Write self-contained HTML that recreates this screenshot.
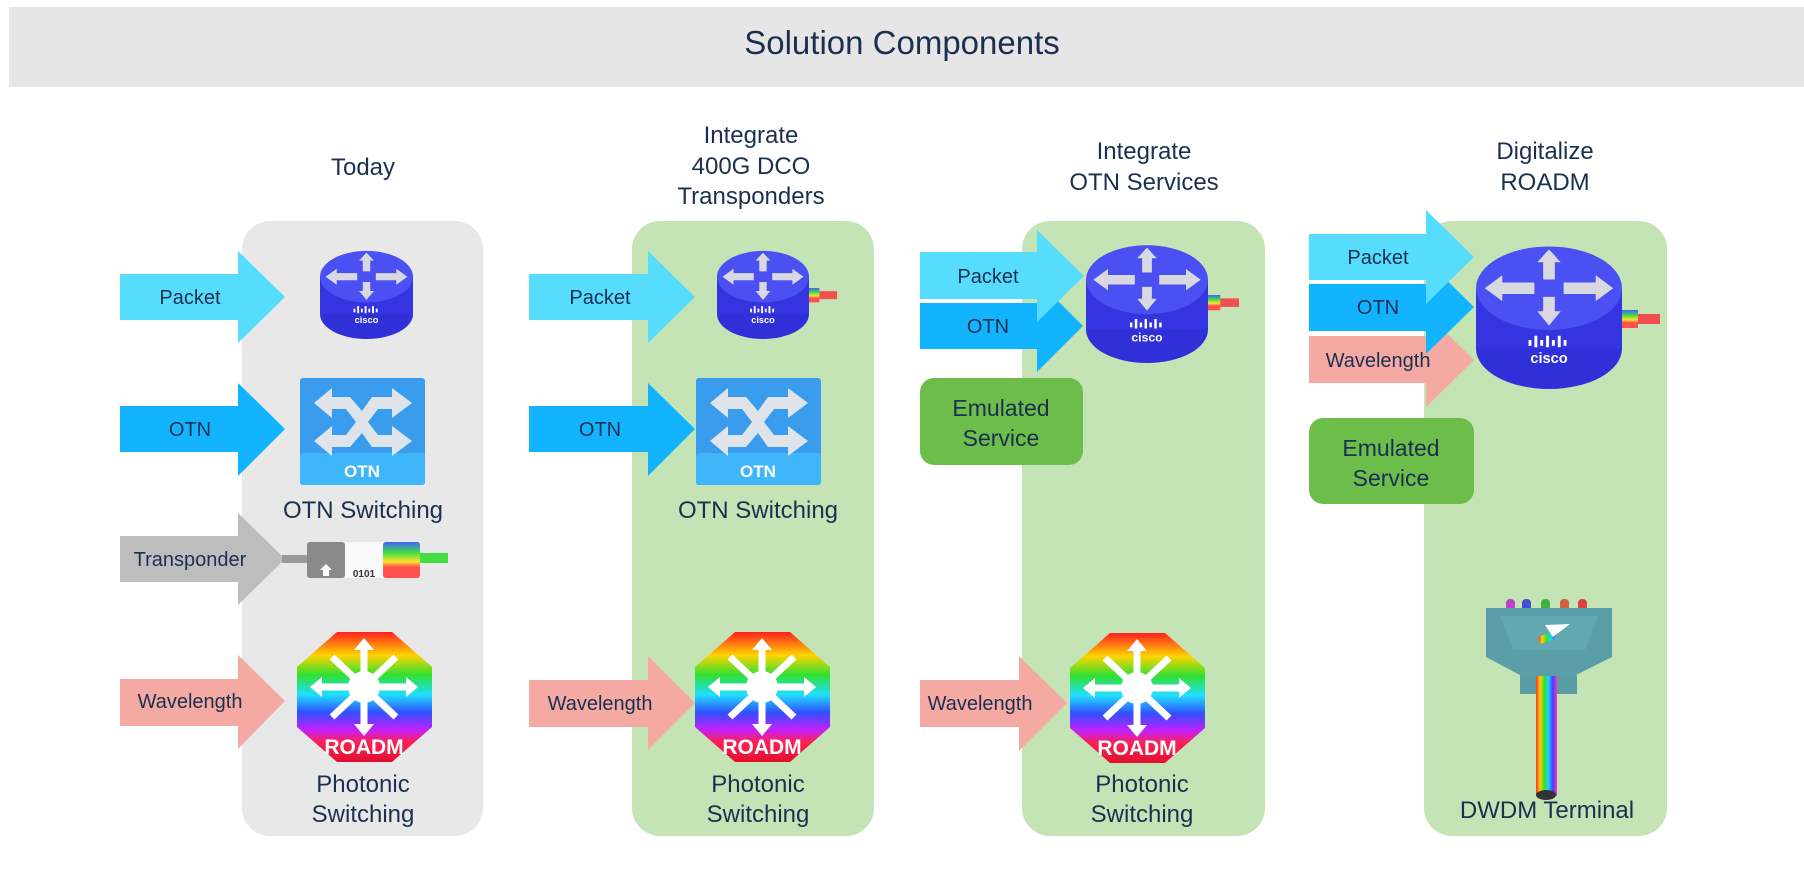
<!DOCTYPE html>
<html><head><meta charset="utf-8"><style>
html,body{margin:0;padding:0;background:#fff;}
svg{display:block;font-family:"Liberation Sans",sans-serif;}
</style></head><body>
<svg width="1804" height="876" viewBox="0 0 1804 876" xmlns="http://www.w3.org/2000/svg">
<defs>
<linearGradient id="rb" x1="0" y1="0" x2="0" y2="1">
<stop offset="0" stop-color="#ff2020"/><stop offset="0.18" stop-color="#ffd400"/><stop offset="0.33" stop-color="#30e030"/><stop offset="0.48" stop-color="#20e0ff"/><stop offset="0.62" stop-color="#3050ff"/><stop offset="0.75" stop-color="#c020ff"/><stop offset="0.85" stop-color="#ff2050"/><stop offset="1" stop-color="#e01030"/>
</linearGradient>
<linearGradient id="rbh" x1="0" y1="0" x2="1" y2="0">
<stop offset="0" stop-color="#ff3030"/><stop offset="0.2" stop-color="#ffd000"/><stop offset="0.4" stop-color="#30e030"/><stop offset="0.6" stop-color="#20d0ff"/><stop offset="0.8" stop-color="#4040ff"/><stop offset="1" stop-color="#ff30c0"/>
</linearGradient>
<linearGradient id="tr" x1="0" y1="0" x2="0" y2="1">
<stop offset="0" stop-color="#4060ff"/><stop offset="0.3" stop-color="#40e040"/><stop offset="0.55" stop-color="#ffe030"/><stop offset="0.7" stop-color="#ff5050"/><stop offset="1" stop-color="#ff5050"/>
</linearGradient>
<g id="router">
<ellipse cx="50" cy="72" rx="50" ry="28" fill="#3030d8"/>
<rect x="0" y="30" width="100" height="42" fill="#3434e0"/>
<ellipse cx="50" cy="30" rx="50" ry="29" fill="#4a50f2"/>
<g fill="#d8d8e0">
<polygon points="50,3 58,12 54,12 54,24 46,24 46,12 42,12"/>
<polygon points="50,56 58,46 54,46 54,36 46,36 46,46 42,46"/>
<polygon points="6,30 18,21 18,26 40,26 40,34 18,34 18,39"/>
<polygon points="94,30 82,21 82,26 60,26 60,34 82,34 82,39"/>
</g>
<g fill="#fff"><rect x="36" y="66" width="2" height="4"/><rect x="40" y="63" width="2" height="8"/><rect x="44" y="66" width="2" height="4"/><rect x="48" y="63" width="2" height="8"/><rect x="52" y="66" width="2" height="4"/><rect x="56" y="63" width="2" height="8"/><rect x="60" y="66" width="2" height="4"/></g>
<text x="50" y="82" font-size="10" font-weight="bold" fill="#fff" text-anchor="middle">cisco</text>
</g>
<g id="otn">
<rect x="0" y="0" width="125" height="107" rx="3" fill="#3a9cec"/>
<rect x="0" y="75" width="125" height="32" rx="3" fill="#3fb6fa"/>
<g fill="#dfe3ea">
<polygon points="14,25 32,10 32,19 50,19 62,33 72,19 92,19 92,10 112,25 92,40 92,31 78,31 68,44 78,57 92,57 92,48 112,63 92,78 92,69 72,69 62,55 50,69 32,69 32,78 14,63 32,48 32,57 46,57 56,44 46,31 32,31 32,40"/>
</g>
<text x="62" y="99" font-size="17" font-weight="bold" fill="#fff" text-anchor="middle">OTN</text>
</g>
<g id="roadm">
<polygon points="40,0 95,0 135,35 135,95 95,130 40,130 0,95 0,35" fill="url(#rb)"/>
<g fill="#fff" stroke="#fff">
<circle cx="67" cy="55" r="16" stroke="none"/>
<line x1="67" y1="55" x2="67" y2="15" stroke-width="7"/><line x1="67" y1="55" x2="67" y2="95" stroke-width="7"/>
<line x1="67" y1="55" x2="22" y2="55" stroke-width="7"/><line x1="67" y1="55" x2="112" y2="55" stroke-width="7"/>
<line x1="67" y1="55" x2="35" y2="25" stroke-width="7"/><line x1="67" y1="55" x2="99" y2="25" stroke-width="7"/>
<line x1="67" y1="55" x2="35" y2="85" stroke-width="7"/><line x1="67" y1="55" x2="99" y2="85" stroke-width="7"/>
<polygon points="67,6 77,18 57,18" stroke="none"/><polygon points="67,104 77,92 57,92" stroke="none"/>
<polygon points="13,55 25,45 25,65" stroke="none"/><polygon points="121,55 109,45 109,65" stroke="none"/>
</g>
<text x="67" y="122" font-size="21" font-weight="bold" fill="#fff" text-anchor="middle">ROADM</text>
</g>
<g id="conn">
<rect x="0" y="0" width="18" height="18" fill="url(#tr)"/>
<rect x="18" y="4" width="22" height="10" fill="#f05050"/>
</g>
</defs>

<rect x="9" y="7" width="1795" height="80" fill="#e6e6e6"/>
<text x="902" y="54" font-size="33" fill="#1b3050" text-anchor="middle">Solution Components</text>

<rect x="242" y="221" width="241" height="615" rx="28" fill="#e8e8e8"/>
<rect x="632" y="221" width="242" height="615" rx="28" fill="#c5e4b5"/>
<rect x="1022" y="221" width="243" height="615" rx="28" fill="#c5e4b5"/>
<rect x="1424" y="221" width="243" height="615" rx="28" fill="#c5e4b5"/>

<g font-size="24" fill="#1b3050" text-anchor="middle">
<text x="363" y="175">Today</text>
<text x="751" y="143">Integrate</text><text x="751" y="174">400G DCO</text><text x="751" y="204">Transponders</text>
<text x="1144" y="159">Integrate</text><text x="1144" y="190">OTN Services</text>
<text x="1545" y="159">Digitalize</text><text x="1545" y="190">ROADM</text>
</g>

<polygon points="120,274 238,274 238,251 285,297 238,343 238,320 120,320" fill="#56dcfd"/>
<polygon points="120,406 238,406 238,383 285,429 238,476 238,452 120,452" fill="#13b4ff"/>
<polygon points="120,536 238,536 238,513 285,559 238,605 238,582 120,582" fill="#bdbdbd"/>
<polygon points="120,679 238,679 238,655 285,701 238,749 238,726 120,726" fill="#f4a9a3"/>
<polygon points="529,274 648,274 648,251 695,297 648,343 648,320 529,320" fill="#56dcfd"/>
<polygon points="529,406 648,406 648,383 695,429 648,476 648,452 529,452" fill="#13b4ff"/>
<polygon points="529,680 648,680 648,656 695,703 648,750 648,727 529,727" fill="#f4a9a3"/>
<polygon points="920,303 1037,303 1037,280 1083,326 1037,372 1037,349 920,349" fill="#13b4ff"/>
<polygon points="920,252 1037,252 1037,230 1084,276 1037,322 1037,299 920,299" fill="#56dcfd"/>
<polygon points="920,680 1019,680 1019,656 1067,703 1019,751 1019,727 920,727" fill="#f4a9a3"/>
<polygon points="1309,336 1426,336 1426,313 1474,360 1426,407 1426,383 1309,383" fill="#f4a9a3"/>
<polygon points="1309,284 1426,284 1426,260 1474,307 1426,354 1426,331 1309,331" fill="#13b4ff"/>
<polygon points="1309,234 1426,234 1426,210 1474,257 1426,304 1426,280 1309,280" fill="#56dcfd"/>

<g font-size="20" fill="#1b3050" text-anchor="middle">
<text x="190" y="304">Packet</text><text x="190" y="436">OTN</text><text x="190" y="566">Transponder</text><text x="190" y="708">Wavelength</text>
<text x="600" y="304">Packet</text><text x="600" y="436">OTN</text><text x="600" y="710">Wavelength</text>
<text x="988" y="283">Packet</text><text x="988" y="333">OTN</text><text x="980" y="710">Wavelength</text>
<text x="1378" y="264">Packet</text><text x="1378" y="314">OTN</text><text x="1378" y="367">Wavelength</text>
</g>

<use href="#router" transform="translate(320,250) scale(0.93,0.89)"/>
<use href="#conn" transform="translate(805,288) scale(0.8)"/>
<use href="#router" transform="translate(717,250) scale(0.92,0.89)"/>
<use href="#conn" transform="translate(1205,295) scale(0.85)"/>
<use href="#router" transform="translate(1086,244) scale(1.22,1.19)"/>
<use href="#conn" transform="translate(1620,310) scale(1)"/>
<use href="#router" transform="translate(1476,245) scale(1.46,1.44)"/>

<use href="#otn" transform="translate(300,378)"/>
<use href="#otn" transform="translate(696,378)"/>
<g font-size="24" fill="#1b3050" text-anchor="middle">
<text x="363" y="518">OTN Switching</text>
<text x="758" y="518">OTN Switching</text>
</g>

<rect x="282" y="555" width="30" height="8" fill="#999"/>
<rect x="307" y="542" width="38" height="36" rx="3" fill="#8a8a8a"/>
<polygon points="326,564 332,570 329,570 329,576 323,576 323,570 320,570" fill="#fff"/>
<rect x="345" y="542" width="38" height="36" fill="#fafafa"/>
<text x="364" y="577" font-size="10" font-weight="bold" fill="#333" text-anchor="middle">0101</text>
<rect x="383" y="542" width="37" height="36" rx="3" fill="url(#tr)"/>
<rect x="420" y="553" width="28" height="10" fill="#44dd44"/>

<use href="#roadm" transform="translate(297,632)"/>
<use href="#roadm" transform="translate(695,632)"/>
<use href="#roadm" transform="translate(1070,633)"/>
<g font-size="24" fill="#1b3050" text-anchor="middle">
<text x="363" y="792">Photonic</text><text x="363" y="822">Switching</text>
<text x="758" y="792">Photonic</text><text x="758" y="822">Switching</text>
<text x="1142" y="792">Photonic</text><text x="1142" y="822">Switching</text>
</g>

<rect x="920" y="378" width="163" height="87" rx="14" fill="#6dbd4a"/>
<rect x="1309" y="418" width="165" height="86" rx="14" fill="#6dbd4a"/>
<g font-size="23" fill="#1b3050" text-anchor="middle">
<text x="1001" y="416">Emulated</text><text x="1001" y="446">Service</text>
<text x="1391" y="456">Emulated</text><text x="1391" y="486">Service</text>
</g>

<g>
<rect x="1506" y="599" width="9" height="12" rx="4" fill="#c040d0"/>
<rect x="1522" y="599" width="9" height="12" rx="4" fill="#4050d0"/>
<rect x="1541" y="599" width="9" height="12" rx="4" fill="#40b040"/>
<rect x="1560" y="599" width="9" height="12" rx="4" fill="#d06040"/>
<rect x="1578" y="599" width="9" height="12" rx="4" fill="#e04040"/>
<polygon points="1486,608 1612,608 1612,657 1576,675 1520,675 1486,657" fill="#5a9fa7"/>
<polygon points="1500,616 1598,616 1585,650 1513,650" fill="#62a8b0"/>
<rect x="1520" y="675" width="57" height="19" fill="#5a9ca4"/>
<polygon points="1538,637 1560,629 1553,640 1540,644" fill="url(#rbh)"/>
<polygon points="1545,625 1570,624 1553,637" fill="#fff"/>
<rect x="1536" y="676" width="21" height="120" fill="url(#rbh)"/>
<ellipse cx="1546" cy="795" rx="10" ry="5" fill="#333"/>
<text x="1547" y="818" font-size="24" fill="#1b3050" text-anchor="middle">DWDM Terminal</text>
</g>
</svg>
</body></html>
